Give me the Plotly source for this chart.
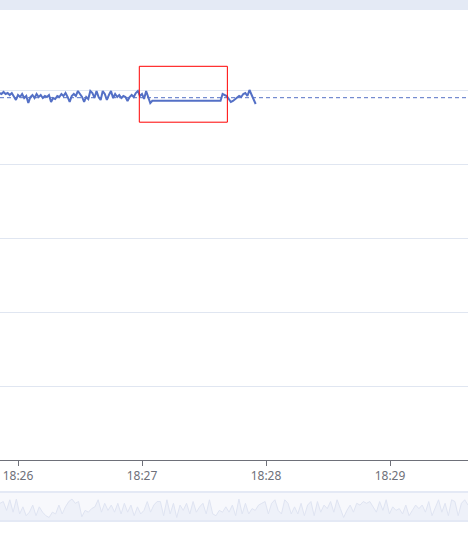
import plotly.graph_objects as go
import pandas as pd

DAY = "2024-05-20 "

# main series: one sample per second starting at 18:25:51
series_start = "18:25:51"
values = [
    99.19, 98.92, 99.46, 98.92, 99.19, 98.65, 99.19, 98.38,
    97.30, 98.65, 98.11, 98.92, 97.84, 98.38, 96.49, 98.11,
    98.65, 97.84, 98.92, 98.11, 98.65, 97.84, 98.38, 98.11,
    98.65, 96.76, 97.84, 97.57, 98.38, 98.11, 98.92, 98.38,
    99.19, 98.11, 96.76, 98.38, 98.92, 98.38, 99.73, 98.92,
    98.11, 96.76, 98.11, 97.57, 99.73, 99.19, 97.84, 99.73,
    98.11, 97.30, 99.73, 98.92, 97.30, 98.65, 99.73, 97.84,
    98.92, 98.11, 98.65, 97.84, 98.38, 98.11, 97.03, 98.11,
    98.65, 98.11, 99.19, 99.73, 98.38, 98.92, 97.57, 99.73, 98.11, 96.49,
    97.10, 97.10, 97.10, 97.10, 97.10, 97.10, 97.10, 97.10, 97.10, 97.10,
    97.10, 97.10, 97.10, 97.10, 97.10, 97.10, 97.10, 97.10, 97.10, 97.10,
    97.10, 97.10, 97.10, 97.10, 97.10, 97.10, 97.10, 97.10, 97.10, 97.10,
    97.10, 97.10, 97.10, 97.10,
    98.92, 98.65, 98.38, 97.57, 96.76, 97.03, 97.57, 97.84, 98.38,
    98.11, 98.92, 99.19, 98.38, 100.00, 98.65, 97.57, 96.22,
]

mean_value = 97.92

# highlighted window
box_start, box_end = "18:26:58.7", "18:27:41.3"
box_low, box_high = 91.3, 106.4

# visible window of the time axis
view_start, view_end = "18:25:51.29", "18:29:37.74"
y_ticks = [20, 40, 60, 80, 100]
y_max = 121.62

# overview series shown in the zoom slider
slider_values = [100 - v for v in [
    50, 45, 70, 40, 75, 38, 80, 60, 85, 75, 55, 85, 60, 75, 85, 90, 75, 80, 55, 80,
    60, 45, 38, 50, 45, 88, 70, 75, 65, 60, 40, 75, 50, 70, 55, 75, 50, 80, 50, 75,
    55, 85, 60, 80, 70, 45, 75, 55, 45, 45,
    85, 40, 80, 50, 90, 55, 70, 50, 80, 45, 75, 60, 50, 80, 40, 80, 85, 70, 75, 60,
    75, 55, 85, 38, 80, 50, 80, 65, 70, 55, 50, 45, 80, 50, 40, 70, 80, 40, 50, 80,
    60, 80, 50, 85, 55, 45, 85,
    45, 75, 55, 65, 45, 75, 40, 65, 90, 70, 55, 75, 50, 55, 45, 50, 45, 60, 75, 45,
    70, 40, 80, 60, 70, 65, 80, 55, 85, 70, 55, 65, 55, 75, 45, 85, 60, 40, 75, 50,
    85, 40, 45, 85, 50, 40, 55,
]]

W, H = 468, 534
main_bottom_px, main_top_px = 460, 10
sl_top_px, sl_bottom_px = 492, 521

times = pd.date_range(DAY + series_start, periods=len(values), freq="s")

fig = go.Figure()

fig.add_trace(go.Scatter(
    x=times, y=values, mode="lines",
    line=dict(color="#5470c6", width=2), xaxis="x", yaxis="y",
    hoverinfo="skip", showlegend=False,
))

fig.add_trace(go.Scatter(
    x=list(range(len(slider_values))), y=slider_values, mode="lines",
    line=dict(color="#dfe4f2", width=1), fill="tozeroy",
    fillcolor="rgba(210,219,238,0.25)", xaxis="x2", yaxis="y2",
    hoverinfo="skip", showlegend=False,
))

fig.update_layout(
    width=W, height=H,
    margin=dict(l=0, r=0, t=0, b=0),
    paper_bgcolor="white", plot_bgcolor="white",
    font=dict(family="Noto Sans", size=12, color="#6e7079"),
    xaxis=dict(
        type="date", range=[DAY + view_start, DAY + view_end],
        tickformat="%H:%M", dtick=60000, tick0=DAY + "18:26:00",
        ticks="outside", ticklen=5, tickcolor="#6e7079",
        showline=True, linecolor="#6e7079", linewidth=1,
        showgrid=False, zeroline=False, anchor="y",
        tickfont=dict(size=12, color="#6e7079"),
    ),
    yaxis=dict(
        domain=[(H - main_bottom_px) / H, (H - main_top_px) / H],
        range=[0, y_max], tickvals=y_ticks, showticklabels=False,
        showgrid=True, gridcolor="#e0e6f1", gridwidth=1,
        zeroline=False, showline=False, ticks="", anchor="x",
    ),
    xaxis2=dict(range=[0, len(slider_values) - 1], visible=False, anchor="y2"),
    yaxis2=dict(
        domain=[(H - sl_bottom_px) / H, (H - sl_top_px) / H],
        range=[0, 82], visible=False, anchor="x2",
    ),
    shapes=[
        # top band
        dict(type="rect", xref="paper", yref="paper", x0=0, x1=1,
             y0=(H - main_top_px) / H, y1=1, fillcolor="#e4eaf5",
             line=dict(width=0), layer="below"),
        # slider background
        dict(type="rect", xref="paper", yref="y2 domain", x0=0, x1=1,
             y0=0, y1=1, fillcolor="#f7f8fc", line=dict(width=0), layer="below"),
        dict(type="line", xref="paper", yref="y2 domain", x0=0, x1=1,
             y0=1, y1=1, line=dict(color="#e4e9f5", width=2)),
        dict(type="line", xref="paper", yref="y2 domain", x0=0, x1=1,
             y0=0, y1=0, line=dict(color="#e4e9f5", width=2)),
        # mean marker line
        dict(type="line", xref="paper", yref="y", x0=0, x1=1,
             y0=mean_value, y1=mean_value,
             line=dict(color="#5470c6", width=1, dash="4px,3px"), layer="below"),
        # highlighted box
        dict(type="rect", xref="x", yref="y",
             x0=DAY + box_start, x1=DAY + box_end, y0=box_low, y1=box_high,
             line=dict(color="#ff0000", width=1), fillcolor="rgba(0,0,0,0)"),
    ],
)

fig.write_html(
    "out.html",
    config={"displayModeBar": False},
    post_script="document.body.style.margin='0';document.body.style.overflow='hidden';",
)
